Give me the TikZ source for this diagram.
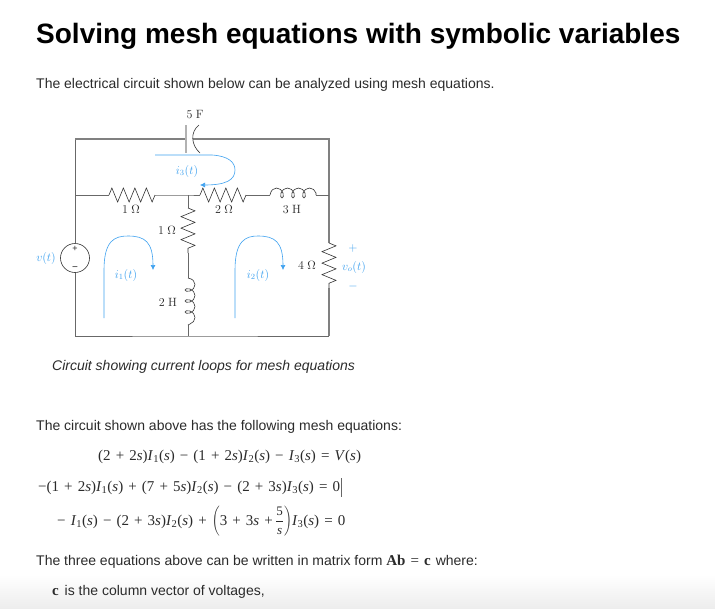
\documentclass[tikz,border=0pt]{standalone}
\usepackage[no-math]{fontspec}
\setmainfont{Liberation Sans}
\newfontfamily\eqfont{Liberation Serif}
\usetikzlibrary{arrows.meta, positioning, decorations.pathmorphing, shadings}
\definecolor{loopblue}{HTML}{3FA2F0}
\definecolor{wiregray}{HTML}{686868}
\definecolor{bodytext}{HTML}{2B2B2B}
\newcommand{\var}[1]{\textit{#1}}
\newcommand{\cur}[1]{\textit{I}\textsubscript{#1}(\textit{s})}
\newcommand{\eqsetup}{\fontsize{15}{18}\eqfont\setlength{\spaceskip}{0.34em}}

\begin{document}
\begin{tikzpicture}[
        x=1pt, y=-1pt,
        wire/.style={draw=wiregray, line width=0.8pt},
        heavywire/.style={draw=black!50, line width=1.1pt},
        resistor/.style={draw=black!80, line width=0.6pt, decorate, decoration={zigzag, segment length=11.5pt, amplitude=7pt}},
        inductor/.style={draw=black!80, line width=0.6pt, decorate, decoration={coil, segment length=11pt, amplitude=5pt, aspect=0.75, raise=2pt}},
        looparrow/.style={draw=loopblue, line width=0.6pt, -{Latex[length=5pt, width=5pt]}},
        part/.style={font=\fontsize{12}{14}\selectfont, text=black!85, inner sep=0pt},
        current/.style={font=\fontsize{12}{14}\selectfont, text=loopblue, inner sep=0pt},
        heading/.style={font=\fontsize{28}{32}\selectfont\bfseries, text=black, anchor=base west, inner sep=0pt},
        para/.style={font=\fontsize{14}{17}\selectfont, text=bodytext, anchor=base west, inner sep=0pt},
        equation/.style={font=\eqsetup, text=bodytext, anchor=base west, inner sep=0pt}
    ]

    % page
    \useasboundingbox (0,0) rectangle (715,608);
    \fill[white] (0,0) rectangle (715,608);
    \shade[top color=white, bottom color=black!7] (0,575) rectangle (715,608);

    % text above and below
    \node[heading] (title) at (36,43) {Solving mesh equations with symbolic variables};
    \node[para] (intro) at (36,88) {The electrical circuit shown below can be analyzed using mesh equations.};
    \node[para, font=\fontsize{14}{17}\selectfont\itshape] (caption) at (52,370) {Circuit showing current loops for mesh equations};
    \node[para] (following) at (36,430) {The circuit shown above has the following mesh equations:};

    % equations
    \node[equation] (eqOne) at (98,460) {(2 + 2\var{s})\cur{1} − (1 + 2\var{s})\cur{2} − \cur{3} = \var{V}(\var{s})};
    \node[equation] (eqTwo) at (38,491) {−(1 + 2\var{s})\cur{1} + (7 + 5\var{s})\cur{2} − (2 + 3\var{s})\cur{3} = 0};
    \node[equation] (eqThree) at (57,525) {− \cur{1} − (2 + 3\var{s})\cur{2} + $\left(\mbox{3 + 3\var{s} +}\,\displaystyle\frac{\mbox{\fontsize{13}{13}\selectfont 5}}{\mbox{\fontsize{13}{13}\selectfont\itshape s}}\right)$\cur{3} = 0};
    \coordinate (caretTop) at (341,478);
    \coordinate (caretEnd) at (341,497);
    \draw[black!60, line width=0.4pt] (caretTop) -- (caretEnd);

    \node[para] (matrixLine) at (36,565) {The three equations above can be written in matrix form {\eqsetup\textbf{Ab} = \textbf{c}} \hspace{1pt}where:};
    \node[para] (vectorLine) at (52,595) {{\eqsetup\textbf{c}}\hspace{2pt} is the column vector of voltages,};

    % corners and junctions
    \foreach \name/\x/\y in {topLeft/75/139, topRight/329/139, botLeft/75/336, botRight/329/336,
        midLeft/75/195, midRight/329/195, midJoin/188/195, botJoin/188/336,
        capLeft/186/139, capRight/193/139,
        rOneA/109/195, rOneB/155/195, rTwoA/200/195, rTwoB/246/195,
        lThreeA/270/195, lThreeB/316/195,
        rMidA/188/208, rMidB/188/253, lTwoA/188/278, lTwoB/188/325,
        rFourA/329/243, rFourB/329/288}
        \coordinate (\name) at (\x,\y);

    % source
    \node[circle, draw=black!80, line width=0.6pt, minimum size=29pt, inner sep=0pt] (source) at (75,258) {};
    \node[inner sep=0pt, font=\fontsize{9}{9}\selectfont, text=black!85] (srcPlus) at (75,249) {+};
    \node[inner sep=0pt, font=\fontsize{10}{10}\selectfont, text=black!85] (srcMinus) at (75,269) {−};

    % wires
    \draw[wire] (source) -- (topLeft);
    \draw[wire] (source) -- (botLeft) -- (botJoin) -- (botRight);
    \draw[heavywire] (topLeft) -- (capLeft);
    \draw[heavywire] (capRight) -- (topRight) -- (midRight);
    \draw[heavywire] (midRight) -- (rFourA);
    \draw[heavywire] (rFourB) -- (botRight);
    \draw[wire] (midLeft) -- (rOneA);
    \draw[wire] (rOneB) -- (midJoin) -- (rTwoA);
    \draw[wire] (rTwoB) -- (lThreeA);
    \draw[wire] (lThreeB) -- (midRight);
    \draw[wire] (midJoin) -- (rMidA);
    \draw[wire] (rMidB) -- (lTwoA);
    \draw[wire] (lTwoB) -- (botJoin);

    % parts
    \draw[resistor] (rOneA) -- (rOneB);
    \draw[resistor] (rTwoA) -- (rTwoB);
    \draw[resistor] (rMidA) -- (rMidB);
    \draw[resistor] (rFourA) -- (rFourB);
    \draw[inductor] (lThreeA) -- (lThreeB);
    \draw[inductor] (lTwoA) -- (lTwoB);

    % capacitor
    \coordinate (plateTop) at (186,125);
    \coordinate (plateEnd) at (186,153);
    \coordinate (arcTop) at (199,125);
    \coordinate (arcEnd) at (200,153);
    \draw[black!30, line width=1.1pt] (plateTop) -- (plateEnd);
    \draw[black!80, line width=0.6pt] (arcTop) .. controls (190,132) and (191,145) .. (arcEnd);

    % current loops
    \coordinate (loopOneA) at (104,318);
    \coordinate (loopOneB) at (153,270);
    \coordinate (loopTwoA) at (235,318);
    \coordinate (loopTwoB) at (283,270);
    \coordinate (loopThreeA) at (155,155);
    \coordinate (loopThreeB) at (200,185);
    \draw[looparrow] (loopOneA) -- (104,270) .. controls (104,240) and (115,236) .. (128,236) .. controls (145,236) and (153,242) .. (loopOneB);
    \draw[looparrow] (loopTwoA) -- (235,270) .. controls (235,240) and (246,236) .. (258,236) .. controls (275,236) and (283,242) .. (loopTwoB);
    \draw[looparrow] (loopThreeA) -- (212,155) .. controls (228,156) and (235,162) .. (235,170) .. controls (235,180) and (226,185) .. (loopThreeB);

    % values
    \node[part] (capLabel) at (195,114) {$5\;\mathrm{F}$};
    \node[part] (rOneLabel) at (131,209) {$1\;\Omega$};
    \node[part] (rTwoLabel) at (224,209) {$2\;\Omega$};
    \node[part] (lThreeLabel) at (292,209) {$3\;\mathrm{H}$};
    \node[part] (rMidLabel) at (167,230) {$1\;\Omega$};
    \node[part] (lTwoLabel) at (168,302) {$2\;\mathrm{H}$};
    \node[part] (rFourLabel) at (307,265) {$4\;\Omega$};

    % currents and voltages
    \node[current] (srcLabel) at (46,258) {$v(t)$};
    \node[current] (iOne) at (126,275) {$i_1(t)$};
    \node[current] (iTwo) at (258,275) {$i_2(t)$};
    \node[current] (iThree) at (187,171) {$i_3(t)$};
    \node[current] (vOut) at (354,267) {$v_o(t)$};
    \node[current] (vPlus) at (353,248) {$+$};
    \node[current] (vMinus) at (353,286) {$-$};

\end{tikzpicture}
\end{document}
